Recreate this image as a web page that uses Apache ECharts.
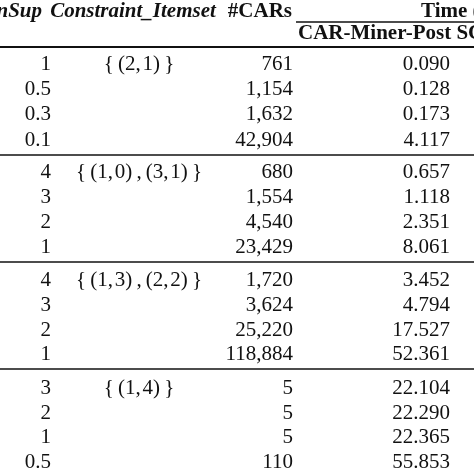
<!DOCTYPE html>
<html><head><meta charset="utf-8">
<script src="https://cdn.jsdelivr.net/npm/echarts@6/dist/echarts.min.js"></script>
<style>html,body{margin:0;padding:0;background:#fff}#c{width:474px;height:474px}</style>
</head><body><div id="c"></div>
<script>
const minSup = ['1','0.5','0.3','0.1','4','3','2','1','4','3','2','1','3','2','1','0.5'];
const itemsets = ['{(2,1)}','{(1,0),(3,1)}','{(1,3),(2,2)}','{(1,4)}'];
const cars = ['761','1,154','1,632','42,904','680','1,554','4,540','23,429','1,720','3,624','25,220','118,884','5','5','5','110'];
const times = ['0.090','0.128','0.173','4.117','0.657','1.118','2.351','8.061','3.452','4.794','17.527','52.361','22.104','22.290','22.365','55.853'];
const headers = ['minSup','Constraint_Itemset','#CARs','Time (s)','CAR-Miner-Post SC'];

const rowY = [64,89,114,140,172,197,222,247,280,305,330,354,388,413,437,462];
const groupLines = [155,262,369];
const F = '"Liberation Serif", "DejaVu Serif", serif';
const els = [];
function txt(s,x,y,align,extra){els.push({type:'text',x:x,y:y,style:Object.assign({text:s,fill:'#111',font:'21px '+F,textAlign:align,textVerticalAlign:'middle'},extra||{})});}
function line(x1,y,x2,w){els.push({type:'line',shape:{x1:x1,y1:y,x2:x2,y2:y},style:{stroke:'#111',lineWidth:w}});}
function mathSet(s){return s.replace(/\{/g,'{\u2009').replace(/\}/g,'\u2009}').replace(/\),\(/g,')\u2009,\u2009(').replace(/(\d),(\d)/g,'$1,\u200a$2');}
txt(headers[0],42,12,'right',{font:'italic bold 21px '+F});
txt(headers[1],133,12,'center',{font:'italic bold 21px '+F});
txt(headers[2],292,12,'right',{font:'bold 21px '+F});
txt(headers[3],421,12,'left',{font:'bold 21px '+F});
line(296,22,474,1.5);
txt(headers[4],298,34,'left',{font:'bold 21px '+F});
line(0,47,474,2);
groupLines.forEach(y=>line(0,y,474,1.5));
for(let i=0;i<rowY.length;i++){
  txt(minSup[i],51,rowY[i],'right');
  txt(cars[i],293,rowY[i],'right');
  txt(times[i],450,rowY[i],'right');
  if(i%4===0) txt(mathSet(itemsets[i/4]),139,rowY[i],'center');
}
const chart = echarts.init(document.getElementById('c'));
chart.setOption({animation:false,graphic:els});
</script></body></html>
